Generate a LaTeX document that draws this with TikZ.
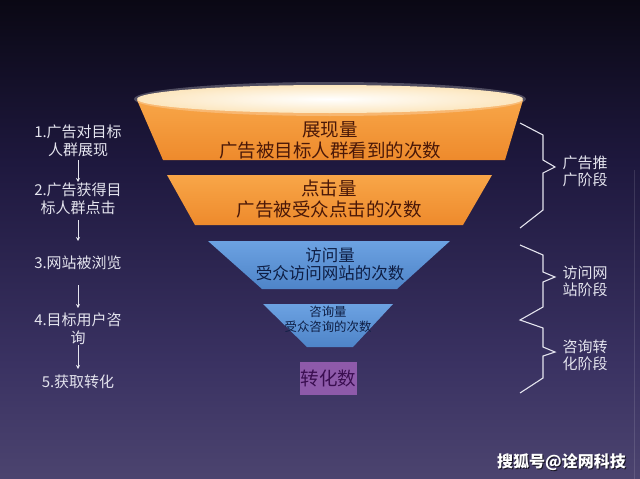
\documentclass[tikz,border=0pt]{standalone}
\usepackage{fontspec}
\setmainfont{Noto Sans CJK SC}
\usetikzlibrary{arrows.meta,calc}
\definecolor{bgA}{HTML}{6C6682}
\definecolor{bgB}{HTML}{585078}
\definecolor{bgC}{HTML}{3A3262}
\definecolor{bgD}{HTML}{1E183E}
\definecolor{bgE}{HTML}{0A0814}
\definecolor{bgF}{HTML}{020202}
\pgfdeclareverticalshading{bgshade}{100bp}{color(0bp)=(bgA); color(16.5bp)=(bgB); color(37bp)=(bgC); color(58bp)=(bgD); color(75bp)=(bgE); color(87bp)=(bgF); color(100bp)=(bgF)}
\definecolor{orT}{HTML}{F8A648}
\definecolor{orB}{HTML}{EE8A2C}
\definecolor{blT}{HTML}{6CA2E2}
\definecolor{blB}{HTML}{4E84C8}
\definecolor{ortext}{HTML}{4A1808}
\definecolor{bltext}{HTML}{0E1E44}
\definecolor{purfill}{HTML}{8E5AAA}
\definecolor{purtext}{HTML}{3A0E50}
\definecolor{lbl}{HTML}{E4E4EE}
\tikzset{
  lefttext/.style={text=lbl, font=\fontsize{15}{18}\selectfont, align=center, inner sep=0pt},
  righttext/.style={text=lbl, font=\fontsize{15}{17}\selectfont, align=left, inner sep=0pt},
  flowarrow/.style={draw=lbl, line width=0.9pt, -{Stealth[length=4pt,width=4pt]}},
  bracket/.style={draw=lbl, line width=1.1pt, line join=miter},
  orangetext/.style={text=ortext, align=center, inner sep=0pt},
  bluetext/.style={text=bltext, align=center, inner sep=0pt},
}
\begin{document}
\begin{tikzpicture}[x=1pt,y=-1pt]
\useasboundingbox (0,0) rectangle (640,479);
\shade[shading=bgshade] (0,0) rectangle (640,479);
\draw[white, opacity=0.12, line width=1pt] (634,170) -- (634,479);

% funnel layer 1
\shade[top color=orT, bottom color=orB] (137,100) -- (523,100) -- (505,160) -- (163,160) -- cycle;
\fill[white, opacity=0.25] (330,99) ellipse [x radius=196, y radius=17];
\shade[inner color=white, outer color={rgb,255:red,252;green,230;blue,190}] (330,99) ellipse [x radius=193, y radius=14];
\node[orangetext, font=\fontsize{18.5}{21}\selectfont] (t1) at (330,140) {展现量\\广告被目标人群看到的次数};

% funnel layer 2
\shade[top color=orT, bottom color=orB] (167,175) -- (492,175) -- (463,225) -- (195,225) -- cycle;
\node[orangetext, font=\fontsize{18.5}{21}\selectfont] (t2) at (329,199) {点击量\\广告被受众点击的次数};

% funnel layer 3
\shade[top color=blT, bottom color=blB] (208,241) -- (450,241) -- (397,289) -- (262,289) -- cycle;
\node[bluetext, font=\fontsize{16.5}{18}\selectfont] (t3) at (330,264) {访问量\\受众访问网站的次数};

% funnel layer 4
\shade[top color=blT, bottom color=blB] (263,304) -- (393,304) -- (353,347) -- (307,347) -- cycle;
\node[bluetext, font=\fontsize{12.4}{15}\selectfont] (t4) at (328,319.5) {咨询量\\受众咨询的次数};

% conversion box
\node[fill=purfill, text=purtext, font=\fontsize{18.5}{20}\selectfont, minimum width=57pt, minimum height=33pt, inner sep=0pt] (t5) at (328.5,378.5) {转化数};

% left steps
\node[lefttext] (l1) at (78,141) {1.广告对目标\\人群展现};
\node[lefttext] (l2) at (78,199) {2.广告获得目\\标人群点击};
\node[lefttext] (l3) at (78,263) {3.网站被浏览};
\node[lefttext] (l4) at (78,329) {4.目标用户咨\\询};
\node[lefttext] (l5) at (78,382) {5.获取转化};
\coordinate (a1s) at (78,160); \coordinate (a1e) at (78,182);
\coordinate (a2s) at (78,220); \coordinate (a2e) at (78,241);
\coordinate (a3s) at (78,285); \coordinate (a3e) at (78,308);
\coordinate (a4s) at (78,345); \coordinate (a4e) at (78,369);
\draw[flowarrow] (a1s) -- (a1e);
\draw[flowarrow] (a2s) -- (a2e);
\draw[flowarrow] (a3s) -- (a3e);
\draw[flowarrow] (a4s) -- (a4e);

% right brackets
\draw[bracket] (520,123) -- (543,135) -- (543,160) -- (555,167) -- (543,173) -- (543,210) -- (520,228);
\draw[bracket] (520,245) -- (543,255) -- (543,272) -- (555,277) -- (543,282) -- (543,307) -- (520,320) -- (543,328) -- (543,347) -- (555,352) -- (543,356) -- (543,378) -- (520,393);
\node[righttext] (r1) at (585,171.5) {广告推\\广阶段};
\node[righttext] (r2) at (585,281.5) {访问网\\站阶段};
\node[righttext] (r3) at (585,355) {咨询转\\化阶段};

% watermark
\node[text=black, opacity=0.7, font=\fontsize{16}{18}\selectfont\bfseries, inner sep=0pt] (wms) at (562.5,463.5) {搜狐号@诠网科技};
\node[text=white, font=\fontsize{16}{18}\selectfont\bfseries, inner sep=0pt] (wm) at (561.5,462) {搜狐号@诠网科技};
\end{tikzpicture}
\end{document}
